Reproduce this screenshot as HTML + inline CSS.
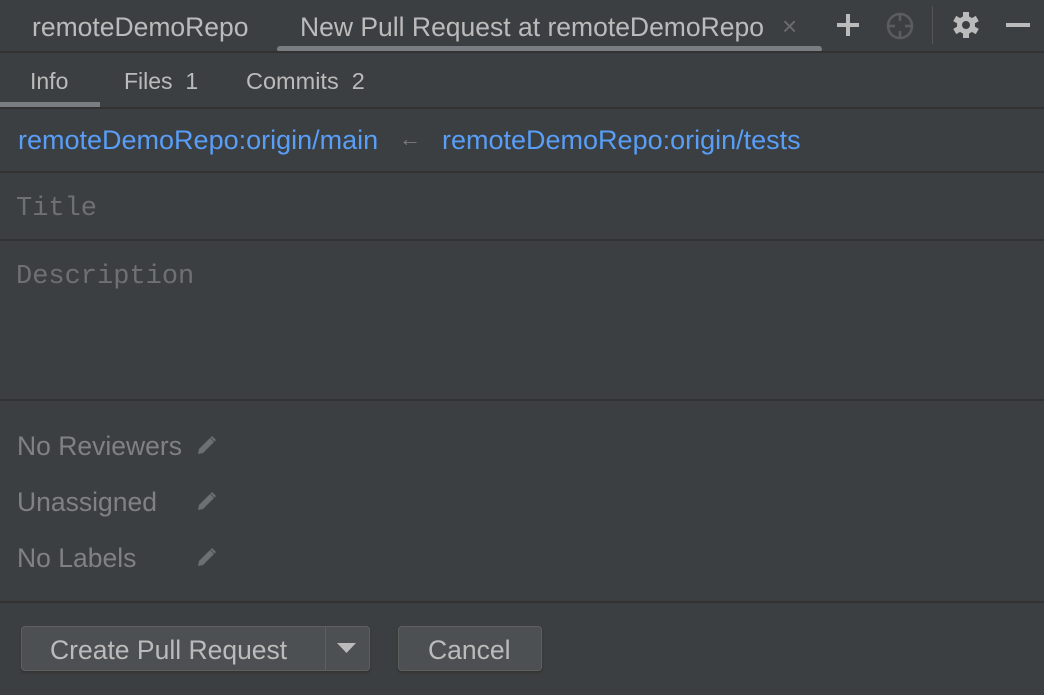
<!DOCTYPE html>
<html><head><meta charset="utf-8"><style>
body{margin:0;width:1044px;height:695px;background:#3c3f41;overflow:hidden;font-family:"Liberation Sans",sans-serif;position:relative}
.a{position:absolute;white-space:nowrap}
.hl{position:absolute;left:0;width:1044px;height:2px;background:#323232}
.t{color:#bbbbbb;font-size:26.5px}
.g{color:#7f8182;font-size:26.5px}
.m{font-family:"Liberation Mono",monospace;color:#6e7071;font-size:27px}
.b{color:#589df6;font-size:27px}
.pen{position:absolute;width:20px;height:20px}
.btn{position:absolute;top:626px;height:45px;background:#4c5052;border:1px solid #5e6060;border-radius:4px;box-sizing:border-box;box-shadow:0 2px 2px #333}
</style></head><body>
<div class="a t" style="left:32px;top:12px">remoteDemoRepo</div>
<div class="a t" style="left:300px;top:12px">New Pull Request at remoteDemoRepo</div>
<div class="a" style="left:782px;top:11px;color:#6a6c6d;font-size:26px">×</div>
<div class="a" style="left:277px;top:46px;width:545px;height:6px;background:#7a7e82;border-radius:3px"></div>
<svg class="a" style="left:835px;top:12px" width="26" height="26"><rect x="11" y="2" width="4" height="22" fill="#bbb"/><rect x="2" y="11" width="22" height="4" fill="#bbb"/></svg>
<svg class="a" style="left:885px;top:11px" width="30" height="30"><circle cx="15" cy="15" r="12" fill="none" stroke="#5a5c5e" stroke-width="2.5"/><path d="M15 3v7M15 20v7M3 15h7M20 15h7" stroke="#5a5c5e" stroke-width="2.5"/></svg>
<div class="a" style="left:932px;top:6px;width:1px;height:38px;background:#555"></div>
<svg class="a" style="left:952px;top:11px" width="28" height="28" viewBox="0 0 28 28"><g fill="#bbb" transform="translate(14 14)"><circle r="9"/><rect x="-3" y="-13" width="6" height="26"/><rect x="-3" y="-13" width="6" height="26" transform="rotate(60)"/><rect x="-3" y="-13" width="6" height="26" transform="rotate(120)"/></g><circle cx="14" cy="14" r="4" fill="#3c3f41"/></svg>
<div class="a" style="left:1006px;top:23px;width:24px;height:4px;background:#bbb"></div>
<div class="hl" style="top:51px"></div>
<div class="a t" style="left:30px;top:68px;font-size:23px">Info</div>
<div class="a t" style="left:124px;top:68px;font-size:23px">Files&nbsp; 1</div>
<div class="a t" style="left:246px;top:68px;font-size:23.5px">Commits&nbsp; 2</div>
<div class="a" style="left:0;top:102px;width:100px;height:6px;background:#7a7e82"></div>
<div class="hl" style="top:107px"></div>
<div class="a b" style="left:18px;top:125px">remoteDemoRepo:origin/main</div>
<div class="a" style="left:399px;top:126px;color:#7a7c7e;font-size:22px">←</div>
<div class="a b" style="left:442px;top:125px">remoteDemoRepo:origin/tests</div>
<div class="hl" style="top:171px"></div>
<div class="a m" style="left:16px;top:194px">Title</div>
<div class="hl" style="top:239px"></div>
<div class="a m" style="left:16px;top:262px">Description</div>
<div class="hl" style="top:399px"></div>
<div class="a g" style="left:17px;top:431px">No Reviewers</div>
<div class="a g" style="left:17px;top:487px">Unassigned</div>
<div class="a g" style="left:17px;top:543px">No Labels</div>
<svg class="pen" style="left:197px;top:435px" viewBox="0 0 20 20"><path d="M1 19l1-5L13 3l4 4L6 18z M15 1l4 4-1.5 1.5-4-4z" fill="#6d7071"/></svg>
<svg class="pen" style="left:197px;top:491px" viewBox="0 0 20 20"><path d="M1 19l1-5L13 3l4 4L6 18z M15 1l4 4-1.5 1.5-4-4z" fill="#6d7071"/></svg>
<svg class="pen" style="left:197px;top:547px" viewBox="0 0 20 20"><path d="M1 19l1-5L13 3l4 4L6 18z M15 1l4 4-1.5 1.5-4-4z" fill="#6d7071"/></svg>
<div class="hl" style="top:601px"></div>
<div class="btn" style="left:21px;width:349px"></div>
<div class="a" style="left:325px;top:627px;width:1px;height:43px;background:#5e6060"></div>
<div class="a t" style="left:50px;top:635px">Create Pull Request</div>
<svg class="a" style="left:337px;top:643px" width="20" height="12"><path d="M0 0h19l-9.5 10z" fill="#bbb"/></svg>
<div class="btn" style="left:398px;width:144px"></div>
<div class="a t" style="left:428px;top:635px">Cancel</div>
</body></html>
